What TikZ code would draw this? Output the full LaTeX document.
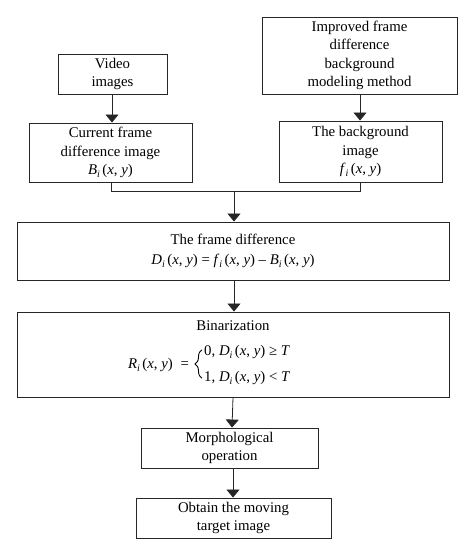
\documentclass[tikz,border=0pt]{standalone}
\usepackage{fontspec}
\setmainfont{Liberation Serif}
\usetikzlibrary{arrows.meta,decorations.pathreplacing}
\newcommand\mysub[1]{\raisebox{-0.4ex}{\fontsize{10}{10}\selectfont\itshape #1}}
\newcommand\fxy[2]{\textit{#1}\mysub{#2}\,(\textit{x}, \textit{y})}
\begin{document}
\begin{tikzpicture}[x=1pt,y=-1pt,
  txt/.style={font=\fontsize{14.8}{18.5}\selectfont},
  box/.style={draw=black!85, line width=0.9pt, align=center, inner sep=0pt, txt},
  arr/.style={draw=black!85, line width=0.8pt, -{Triangle[width=13pt,length=8pt]}},
  ln/.style={draw=black!85, line width=0.8pt}]
\useasboundingbox (0,0) rectangle (474,556);
\node[box, minimum width=109pt, minimum height=40pt] (video) at (112.5,74) {Video\\images};
\node[box, minimum width=195pt, minimum height=77pt] (improved) at (359.5,55.5) {Improved frame\\difference\\background\\modeling method};
\node[box, minimum width=163pt, minimum height=59pt] (current) at (110.5,152.5) {Current frame\\difference image\\\fxy{B}{i}};
\node[box, minimum width=163pt, minimum height=61pt] (backg) at (360.5,151.5) {The background\\image\\\fxy{f}{i}};
\node[box, minimum width=432pt, minimum height=58pt] (fdiff) at (233,251) {The frame difference\\[1.5pt]\fxy{D}{i} = \fxy{f}{i} -- \fxy{B}{i}};
\node[box, minimum width=432pt, minimum height=85pt] (binar) at (233,354.5) {};
\node[txt, inner sep=0pt] (bintitle) at (233,326) {Binarization};
\node[txt, inner sep=0pt, anchor=west] (rlhs) at (128,365) {\fxy{R}{i} \;=};
\node[txt, inner sep=0pt, anchor=west, align=left] (cases) at (204,365)
  {0, \fxy{D}{i} ≥ \textit{T}\\[8pt]1, \fxy{D}{i} < \textit{T}};
\draw[line width=0.9pt, decorate, decoration={brace, amplitude=7pt}]
  ([xshift=-2pt,yshift=7pt]cases.south west) -- ([xshift=-2pt,yshift=-5pt]cases.north west);
\node[box, minimum width=177pt, minimum height=40pt] (morph) at (229.5,448) {Morphological\\operation};
\node[box, minimum width=195pt, minimum height=40pt] (obtain) at (233.5,518) {Obtain the moving\\target image};
\coordinate (jl) at (111,191);
\coordinate (jr) at (360,191);
\coordinate (jm) at (234,191);
\draw[arr] (video.south -| 112,0) -- (current.north -| 112,0);
\draw[arr] (improved.south -| 360,0) -- (backg.north -| 360,0);
\draw[ln] (current.south -| jl) -- (jl) -- (jr) -- (backg.south -| jr);
\draw[arr] (jm) -- (fdiff.north -| jm);
\draw[arr] (fdiff.south -| 234,0) -- (binar.north -| 234,0);
\draw[arr] (binar.south -| 233,0) -- (morph.north -| 232,0);
\draw[arr] (morph.south -| 233,0) -- (obtain.north -| 233,0);
\end{tikzpicture}
\end{document}
